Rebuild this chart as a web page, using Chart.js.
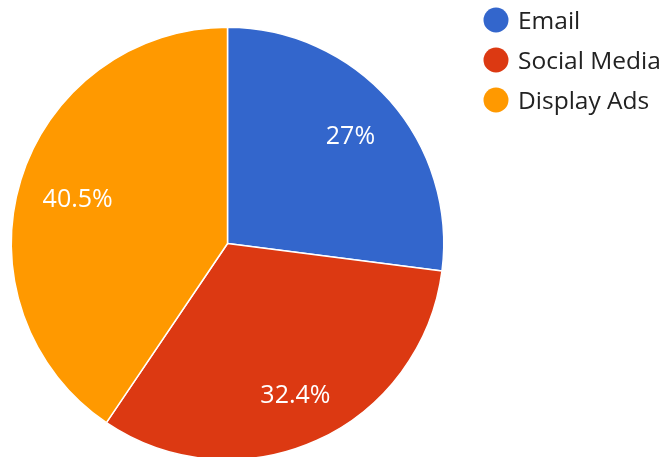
<!DOCTYPE html>
<html>
<head>
<meta charset="utf-8">
<script src="https://cdn.jsdelivr.net/npm/chart.js@4.4.1/dist/chart.umd.min.js"></script>
<style>
html,body{margin:0;padding:0;background:#fff;overflow:hidden;}
#wrap{width:662px;height:470px;position:relative;}
</style>
</head>
<body>
<div id="wrap"><canvas id="c"></canvas></div>
<script>
const categories = ["Email", "Social Media", "Display Ads"];
const shares = [27, 32.4, 40.5];
const sliceColors = ["#3366CC", "#DC3912", "#FF9900"];

const FONT = '"Open Sans", "Noto Sans", sans-serif';

const sliceLabels = {
  id: 'sliceLabels',
  afterDatasetsDraw(chart) {
    const ctx = chart.ctx;
    const meta = chart.getDatasetMeta(0);
    const ds = chart.data.datasets[0];
    const size = 25;
    const halfCap = size * 0.357;
    ctx.save();
    ctx.fillStyle = '#ffffff';
    ctx.font = size + 'px ' + FONT;
    ctx.textAlign = 'center';
    ctx.textBaseline = 'alphabetic';
    meta.data.forEach((arc, i) => {
      const p = arc.getProps(['x','y','startAngle','endAngle','outerRadius'], true);
      const mid = (p.startAngle + p.endAngle) / 2;
      const txt = ds.data[i] + '%';
      const hw = ctx.measureText(txt).width / 2;
      const cx = Math.cos(mid), cy = Math.sin(mid);
      const support = hw * Math.abs(cx) + halfCap * Math.abs(cy);
      const d = p.outerRadius * 0.825 - 0.6 * support;
      ctx.fillText(txt, p.x + cx * d, p.y + cy * d + halfCap);
    });
    ctx.restore();
  }
};

const sideLegend = {
  id: 'sideLegend',
  afterDraw(chart) {
    const ctx = chart.ctx;
    const ds = chart.data.datasets[0];
    const size = 24.5;
    ctx.save();
    ctx.font = size + 'px ' + FONT;
    ctx.textBaseline = 'alphabetic';
    ctx.textAlign = 'left';
    chart.data.labels.forEach((lab, i) => {
      const y = 20 + i * 40;
      ctx.fillStyle = ds.backgroundColor[i];
      ctx.beginPath();
      ctx.arc(496, y, 12.5, 0, Math.PI * 2);
      ctx.fill();
      ctx.fillStyle = '#222222';
      ctx.fillText(lab, 518, y + size * 0.357);
    });
    ctx.restore();
  }
};

new Chart(document.getElementById('c'), {
  type: 'pie',
  data: {
    labels: categories,
    datasets: [{
      data: shares,
      backgroundColor: sliceColors,
      borderColor: '#ffffff',
      borderWidth: 1.5
    }]
  },
  options: {
    responsive: true,
    maintainAspectRatio: false,
    animation: false,
    layout: { padding: { left: 10.5, right: 217.5, top: 26.5, bottom: 9.5 } },
    plugins: {
      legend: { display: false },
      tooltip: { enabled: false }
    }
  },
  plugins: [sliceLabels, sideLegend]
});
</script>
</body>
</html>
